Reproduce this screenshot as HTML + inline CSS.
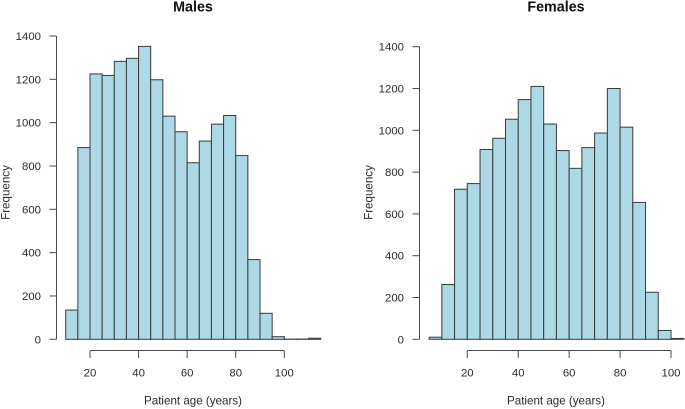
<!DOCTYPE html>
<html>
<head>
<meta charset="utf-8">
<style>
html,body{margin:0;padding:0;background:#fff;}
svg{display:block;font-family:"Liberation Sans",Arial,sans-serif;}
text{fill:#2b2b2b;}
</style>
</head>
<body>
<svg id="chart" width="685" height="409" viewBox="0 0 685 409" xmlns="http://www.w3.org/2000/svg"></svg>
<script>
const maleValues = [135, 885, 1225, 1218, 1283, 1297, 1352, 1198, 1030, 958, 815, 915, 993, 1033, 848, 368, 120, 12, 1, 1, 5];
const maleBinStart = 10;
const femaleValues = [10, 262, 718, 745, 908, 962, 1053, 1147, 1210, 1030, 903, 818, 917, 987, 1200, 1015, 655, 225, 42, 4];
const femaleBinStart = 5;
const binWidth = 5;
const yTicks = [0, 200, 400, 600, 800, 1000, 1200, 1400];
const xTicks = [20, 40, 60, 80, 100];

const NS = 'http://www.w3.org/2000/svg';
const svg = document.getElementById('chart');

function mk(parent, tag, attrs, text) {
  const el = document.createElementNS(NS, tag);
  for (const k in attrs) el.setAttribute(k, attrs[k]);
  if (text !== undefined) el.textContent = text;
  parent.appendChild(el);
  return el;
}

function panel(cfg) {
  const xs = v => cfg.x20 + (v - 20) * (cfg.x100 - cfg.x20) / 80;
  const ys = v => cfg.y0 + (v / 1400) * (cfg.y1400 - cfg.y0);

  const g = mk(svg, 'g', {});
  
  

  cfg.values.forEach((val, i) => {
    const b = cfg.start + i * binWidth;
    const r = mk(g, 'rect', {
      x: xs(b), y: ys(val), width: xs(b + binWidth) - xs(b), height: ys(0) - ys(val),
      fill: '#add8e6', stroke: '#3a3a3a', 'stroke-width': 1
    });
    
    
  });

  const axisStyle = { stroke: '#4a4a4a', 'stroke-width': 1, fill: 'none' };

  const yAxis = mk(g, 'g', {});
  
  
  mk(yAxis, 'line', Object.assign({ x1: cfg.axisX, x2: cfg.axisX, y1: ys(yTicks[0]), y2: ys(yTicks[yTicks.length - 1]) }, axisStyle));
  yTicks.forEach(t => {
    mk(yAxis, 'line', Object.assign({ x1: cfg.axisX - 7, x2: cfg.axisX, y1: ys(t), y2: ys(t) }, axisStyle));
    const l = mk(yAxis, 'text', { x: cfg.axisX - 15.5, y: ys(t) + 4, 'text-anchor': 'end', 'font-size': 11.4 }, String(t));
    
    
  });

  const xAxis = mk(g, 'g', {});
  
  
  mk(xAxis, 'line', Object.assign({ x1: xs(xTicks[0]), x2: xs(xTicks[xTicks.length - 1]), y1: 350.5, y2: 350.5 }, axisStyle));
  xTicks.forEach(t => {
    mk(xAxis, 'line', Object.assign({ x1: xs(t), x2: xs(t), y1: 350.5, y2: 358 }, axisStyle));
    const l = mk(xAxis, 'text', { x: xs(t), y: 376.5, 'text-anchor': 'middle', 'font-size': 11.4 }, String(t));
    
    
  });

  const title = mk(g, 'text', { x: cfg.titleX, y: 11.5, 'text-anchor': 'middle', 'font-size': 14.3, 'font-weight': 'bold', style: 'fill:#111' }, cfg.title);
  
  

  const xt = mk(g, 'text', { x: cfg.titleX, y: 404.5, 'text-anchor': 'middle', 'font-size': 11.6 }, 'Patient age (years)');
  
  

  const yt = mk(g, 'text', { x: 0, y: 0, 'text-anchor': 'middle', 'font-size': 11.6, transform: 'translate(' + cfg.yTitleX + ' ' + cfg.yTitleY + ') rotate(-90)' }, 'Frequency');
  
  
}

panel({ key: 'males', title: 'Males', values: maleValues, start: maleBinStart,
  x20: 90, x100: 284.3, y0: 339.3, y1400: 36, axisX: 56.5, titleX: 193, yTitleX: 9.5, yTitleY: 192.5 });
panel({ key: 'females', title: 'Females', values: femaleValues, start: femaleBinStart,
  x20: 467.3, x100: 671, y0: 339.3, y1400: 46.7, axisX: 419.5, titleX: 556, yTitleX: 372.7, yTitleY: 192.5 });
</script>
</body>
</html>
